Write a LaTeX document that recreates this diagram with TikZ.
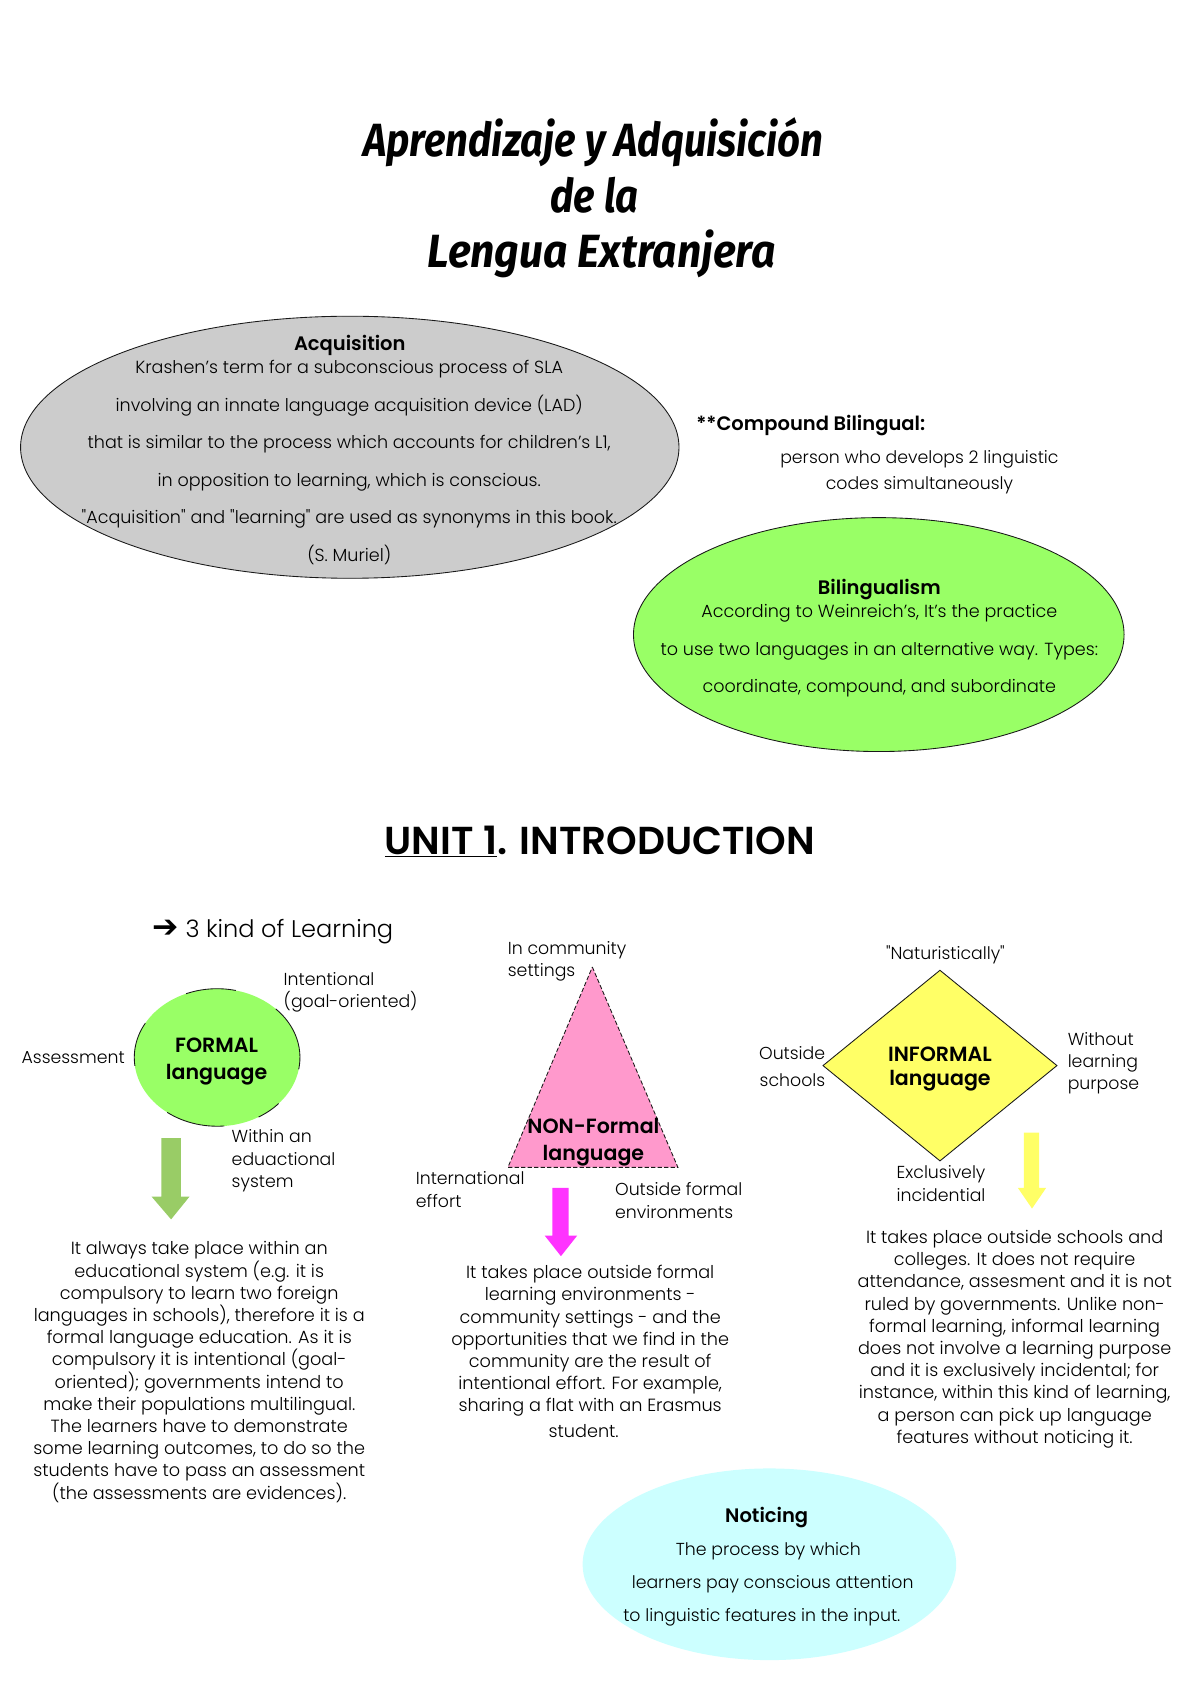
\documentclass[tikz,border=0pt]{standalone}
\usepackage{graphicx}
\usepackage{fontspec}
\usetikzlibrary{shapes.geometric}
\setmainfont{Poppins}[UprightFont=* Light,BoldFont=* SemiBold,Ligatures=TeXOff]
\newfontfamily\titlefont{Fira Sans}[BoldItalicFont=* Bold Italic,FakeStretch=0.86]
\newfontfamily\arrowfont{DejaVu Sans}
\definecolor{grayfill}{HTML}{CCCCCC}
\definecolor{limefill}{HTML}{99FF66}
\definecolor{pinkfill}{HTML}{FF99CC}
\definecolor{yellowfill}{HTML}{FFFF66}
\definecolor{cyanfill}{HTML}{CCFFFF}
\definecolor{olivearrow}{HTML}{99CC66}
\definecolor{magentaarrow}{HTML}{FF33FF}
\tikzset{
  blob/.style={ellipse,inner sep=0pt,outer sep=0pt},
  outlined/.style={draw=black!90,line width=0.8pt},
  txt/.style={inner sep=0pt,outer sep=0pt,align=center,text=black,yshift=-2pt,font=\fontsize{16.3}{20.5}\selectfont},
  wide/.style={txt,font=\fontsize{16.2}{34.6}\selectfont},
  lefttxt/.style={txt,align=left,anchor=west,font=\fontsize{16}{20.5}\selectfont},
  head/.style={inner sep=0pt,outer sep=0pt,align=center,text=black,yshift=-2pt,font=\fontsize{18}{25}\selectfont\bfseries},
  titleline/.style={inner sep=0pt,outer sep=0pt,text=black,font=\titlefont\fontsize{43}{50}\selectfont\bfseries\itshape},
  block/.style={fill=#1,draw=none},
}
\begin{document}
\begin{tikzpicture}[x=1pt,y=-1pt]
\useasboundingbox (0,0) rectangle (1108,1568);
\fill[white] (0,0) rectangle (1108,1568);
% title
\node[titleline] (t1) at (548,131) {Aprendizaje y Adquisición};
\node[titleline] (t2) at (549,180) {de la};
\node[titleline] (t3) at (555.5,234) {\scalebox{1.065}[1]{Lengua Extranjera}};
% acquisition
\node[blob,outlined,fill=grayfill,minimum width=608,minimum height=242] (acq) at (323,413) {};
\node[head] (acqh) at (323,317) {Acquisition};
\node[wide] (acqb) at (322.5,425) {Krashen’s term for a subconscious process of SLA\\
involving an innate language acquisition device (LAD)\\
that is similar to the process which accounts for children’s L1,\\
in opposition to learning, which is conscious.\\
"Acquisition" and "learning" are used as synonyms in this book.\\
(S. Muriel)};
% compound
\node[head,anchor=west] (cb) at (643,391) {**Compound Bilingual:};
\node[txt,font=\fontsize{16}{24}\selectfont] (cbb) at (849,434) {person who develops 2 linguistic\\codes simultaneously};
% bilingualism
\node[blob,outlined,fill=limefill,minimum width=453,minimum height=216] (bil) at (811.5,586) {};
\node[head] (bilh) at (812,542) {Bilingualism};
\node[wide] (bilb) at (812,599) {According to Weinreich’s, It’s the practice\\
to use two languages in an alternative way. Types:\\
coordinate, compound, and subordinate};
% unit
\node[inner sep=0pt,text=black,font=\fontsize{36}{40}\selectfont\bfseries] (unit) at (554,777) {\underline{UNIT 1}. INTRODUCTION};
\node[txt,anchor=west,font=\fontsize{22.2}{28}\selectfont] (kinds) at (141,858) {{\arrowfont\bfseries\fontsize{29}{28}\selectfont ➔}\hspace{6pt}3 kind of Learning};
% formal
\node[blob,fill=limefill,minimum width=153,minimum height=127] (formal) at (200.5,976.5) {};
\foreach \a/\b in {77/112,-10/45,150/187,233/275,300/318}
  \draw[outlined] plot[smooth,domain=\a:\b,samples=16] ({200.5+76.5*cos(\x)},{976.5-63.5*sin(\x)});
\node[head,font=\fontsize{19}{25}\selectfont\bfseries] (formalt) at (200,978.5) {FORMAL\\language};
\node[lefttxt] (f1) at (262,914.5) {Intentional\\(goal-oriented)};
\node[lefttxt] (f2) at (20,975) {Assessment};
\node[lefttxt] (f3) at (214,1070) {Within an\\eduactional\\system};
\fill[block=olivearrow] (149,1051) -- (167,1051) -- (167,1105) -- (175,1105) -- (158,1126) -- (140,1105) -- (149,1105) -- cycle;
\node[txt] (fb) at (184,1265) {It always take place within an\\
educational system (e.g. it is\\
compulsory to learn two foreign\\
languages in schools), therefore it is a\\
formal language education. As it is\\
compulsory it is intentional (goal-\\
oriented); governments intend to\\
make their populations multilingual.\\
The learners have to demonstrate\\
some learning outcomes, to do so the\\
students have to pass an assessment\\
(the assessments are evidences).};
% non-formal
\coordinate (apex) at (547,893);
\coordinate (bl) at (469,1078);
\coordinate (br) at (626,1078);
\draw[fill=pinkfill,draw=black!90,line width=0.8pt,dash pattern=on 4pt off 2pt] (apex) -- (br) -- (bl) -- cycle;
\node[head,font=\fontsize{19}{25}\selectfont\bfseries] (nft) at (548,1052.5) {NON-Formal\\language};
\node[lefttxt] (n1) at (469,885.5) {In community\\settings};
\node[lefttxt] (n2) at (384,1096.5) {International\\effort};
\node[lefttxt] (n3) at (568,1106.5) {Outside formal\\environments};
\fill[block=magentaarrow] (510,1097) -- (525,1097) -- (525,1141) -- (533,1141) -- (518,1160) -- (503,1141) -- (510,1141) -- cycle;
\node[txt] (nb) at (545,1246) {It takes place outside formal\\
learning environments -\\
community settings - and the\\
opportunities that we find in the\\
community are the result of\\
intentional effort. For example,\\
sharing a flat with an Erasmus\\[3pt]
\hspace*{-12pt}student.};
% informal
\node[diamond,outlined,fill=yellowfill,inner sep=0pt,outer sep=0pt,aspect=1.227,minimum width=216,minimum height=176] (inf) at (868,984) {};
\node[head,font=\fontsize{19}{22}\selectfont\bfseries] (inft) at (868,985) {INFORMAL\\language};
\node[txt,font=\fontsize{16}{20.5}\selectfont] (i1) at (873,880) {"Naturistically"};
\node[txt,align=right,anchor=east,font=\fontsize{16}{25}\selectfont] (i2) at (762,982.5) {Outside\\schools};
\node[lefttxt] (i3) at (986,980) {Without\\learning\\purpose};
\node[txt,font=\fontsize{16}{20.5}\selectfont] (i4) at (869,1091) {Exclusively\\incidential};
\fill[block=yellowfill] (945.5,1046) -- (959.5,1046) -- (959.5,1097) -- (966,1097) -- (953,1116) -- (940,1097) -- (945.5,1097) -- cycle;
\node[txt] (ib) at (937,1234.5) {It takes place outside schools and\\
colleges. It does not require\\
attendance, assesment and it is not\\
ruled by governments. Unlike non-\\
formal learning, informal learning\\
does not involve a learning purpose\\
and it is exclusively incidental; for\\
instance, within this kind of learning,\\
a person can pick up language\\
features without noticing it.};
% noticing
\node[blob,fill=cyanfill,minimum width=345,minimum height=177] (not) at (710.5,1444.5) {};
\node[head] (noth) at (708,1399) {Noticing};
\node[txt,font=\fontsize{16}{30.5}\selectfont] (notb) at (709.5,1461) {The process by which\\\hspace*{8pt}learners pay conscious attention\\\hspace*{-12pt}to linguistic features in the input.};
\end{tikzpicture}
\end{document}
